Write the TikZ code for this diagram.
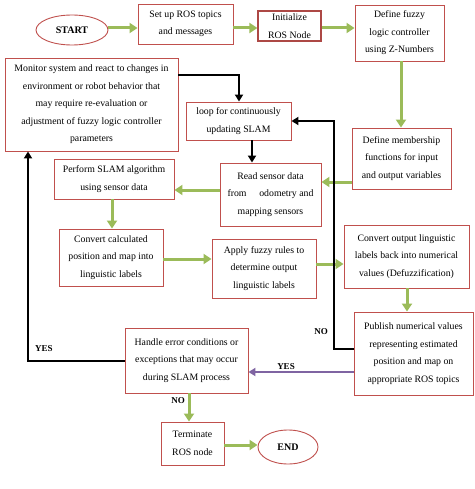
\documentclass[tikz,border=0pt]{standalone}
\usepackage{fontspec}
\setmainfont{Liberation Serif}
\usetikzlibrary{arrows.meta,shapes.geometric}
\definecolor{boxred}{HTML}{C0504D}
\definecolor{grn}{HTML}{9BBB59}
\definecolor{purp}{HTML}{7F64A2}
\begin{document}
\begin{tikzpicture}[x=1pt,y=-1pt,
  box/.style={draw=boxred, line width=0.9pt, align=center, inner sep=0pt, font=\fontsize{9.8}{17.5}\selectfont},
  oval/.style={draw=boxred, ellipse, line width=0.9pt, inner sep=0pt, font=\bfseries\fontsize{10}{12}\selectfont},
  garrow/.style={draw=grn, line width=3pt, -{Triangle[length=8pt,width=10pt]}},
  karrow/.style={draw=black, line width=2pt, -{Triangle[length=7pt,width=8pt]}},
  parrow/.style={draw=purp, line width=2pt, -{Triangle[length=7pt,width=8pt]}},
  lbl/.style={font=\bfseries\fontsize{9}{10}\selectfont, inner sep=0pt}]
\useasboundingbox (0,0) rectangle (474,489);
\fill[white] (0,0) rectangle (474,489);
% helper coordinates
\coordinate (y28) at (0,28);
\coordinate (y75) at (0,75);
\coordinate (y182) at (0,182);
\coordinate (y190) at (0,190);
\coordinate (y259) at (0,259);
\coordinate (y264) at (0,264);
\coordinate (y349) at (0,349);
\coordinate (y372) at (0,372);
\coordinate (y445) at (0,445);
\coordinate (x28) at (28,0);
\coordinate (x112) at (112,0);
\coordinate (x189) at (189,0);
\coordinate (x239) at (239,0);
\coordinate (x252) at (252,0);
\coordinate (x334) at (334,0);
\coordinate (x401) at (401,0);
\coordinate (x407) at (407,0);
% nodes
\node[oval, minimum width=72, minimum height=30] (start) at (72,30) {START};
\node[box, minimum width=95, minimum height=40] (setup) at (185.5,24) {Set up ROS topics\\and messages};
\node[box, minimum width=63, minimum height=30, line width=1.2pt, draw=boxred!90!black] (init) at (289.5,26) {Initialize\\ROS Node};
\node[box, minimum width=89, minimum height=56] (fuzzy) at (399.5,33) {Define fuzzy\\logic controller\\using Z-Numbers};
\node[box, minimum width=173, minimum height=93] (monitor) at (91.5,104.5) {Monitor system and react to changes in\\environment or robot behavior that\\may require re-evaluation or\\adjustment of fuzzy logic controller\\parameters};
\node[box, minimum width=105, minimum height=38] (loop) at (238.5,121) {loop for continuously\\updating SLAM};
\node[box, minimum width=99, minimum height=61] (member) at (401.5,158.5) {Define membership\\functions for input\\and output variables};
\node[box, minimum width=120, minimum height=40] (slam) at (114,179) {Perform SLAM algorithm\\using sensor data};
\node[box, minimum width=101, minimum height=63] (read) at (270.5,194.5) {Read sensor data\\from\hspace{1.3em}odometry and\\mapping sensors};
\node[box, minimum width=104, minimum height=57] (convc) at (111,257.5) {Convert calculated\\position and map into\\linguistic labels};
\node[box, minimum width=104, minimum height=59] (apply) at (264,268.5) {Apply fuzzy rules to\\determine output\\linguistic labels};
\node[box, minimum width=125, minimum height=63] (convo) at (406.5,256.5) {Convert output linguistic\\labels back into numerical\\values (Defuzzification)};
\node[box, minimum width=119, minimum height=83] (pub) at (413.5,353.5) {Publish numerical values\\representing estimated\\position and map on\\appropriate ROS topics};
\node[box, minimum width=123, minimum height=65] (handle) at (186.5,360.5) {Handle error conditions or\\exceptions that may occur\\during SLAM process};
\node[box, minimum width=63, minimum height=43] (term) at (192.5,443.5) {Terminate\\ROS node};
\node[oval, minimum width=60, minimum height=34] (end) at (288,447) {END};
% labels
\node[lbl] (lno1) at (321,332) {NO};
\node[lbl] (lyes1) at (44,349) {YES};
\node[lbl] (lyes2) at (286,367) {YES};
\node[lbl] (lno2) at (178,401) {NO};
% green arrows
\draw[garrow] (start.east |- y28) -- (setup.west |- y28);
\draw[garrow] (setup.east |- y28) -- (init.west |- y28);
\draw[garrow] (init.east |- y28) -- (fuzzy.west |- y28);
\draw[garrow] (fuzzy.south -| x401) -- (member.north -| x401);
\draw[garrow] (member.west |- y182) -- (read.east |- y182);
\draw[garrow] (read.west |- y190) -- (slam.east |- y190);
\draw[garrow] (slam.south -| x112) -- (convc.north -| x112);
\draw[garrow] (convc.east |- y259) -- (apply.west |- y259);
\draw[garrow] (apply.east |- y264) -- (convo.west |- y264);
\draw[garrow] (convo.south -| x407) -- (pub.north -| x407);
\draw[garrow] (handle.south -| x189) -- (term.north -| x189);
\draw[garrow] (term.east |- y445) -- (end.west |- y445);
% black arrows
\draw[karrow] (monitor.east |- y75) -| (loop.north -| x239);
\draw[karrow] (loop.south -| x252) -- (read.north -| x252);
\draw[karrow] (pub.west |- y349) -- (x334 |- y349) -- (x334 |- loop.east) -- (loop.east);
\draw[karrow] (handle.west) -| (monitor.south -| x28);
% purple arrow
\draw[parrow] (pub.west |- y372) -- (handle.east |- y372);
\end{tikzpicture}
\end{document}
